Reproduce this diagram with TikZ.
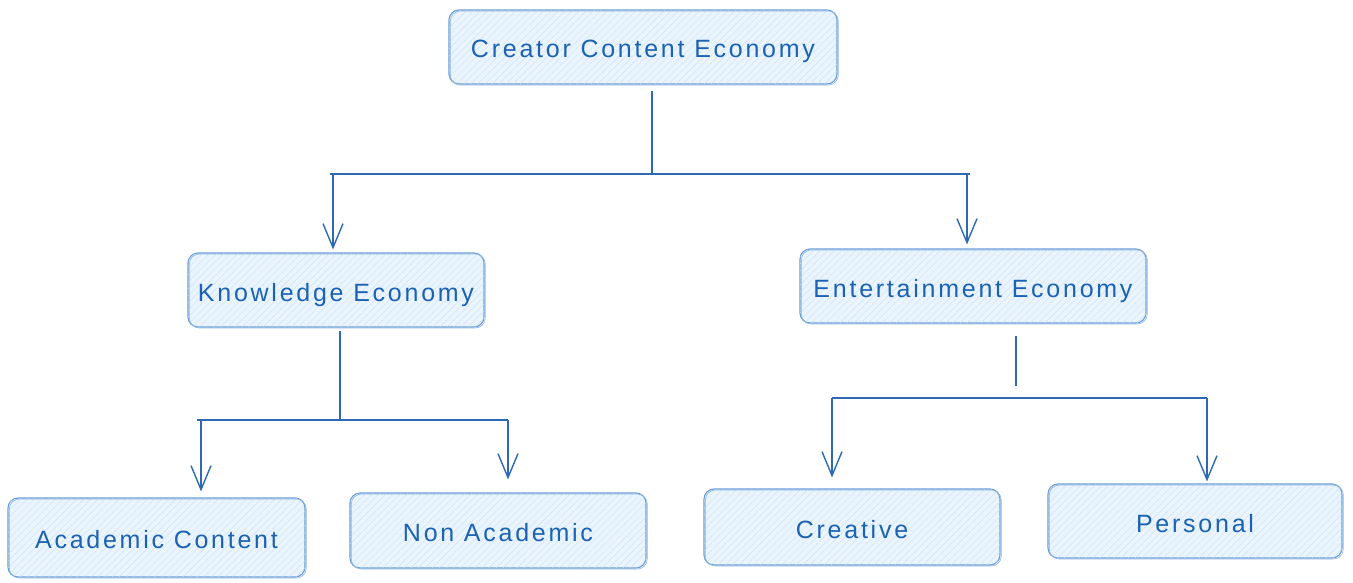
\documentclass[tikz,border=0pt]{standalone}
\usepackage{fontspec}
\setmainfont{Liberation Sans}[LetterSpace=11]
\usetikzlibrary{arrows.meta,patterns.meta}
\definecolor{boxfill}{RGB}{234,244,253}
\definecolor{hatch}{RGB}{200,224,247}
\definecolor{boxdraw}{RGB}{105,158,216}
\definecolor{linec}{RGB}{45,105,180}
\definecolor{textc}{RGB}{28,98,178}
\tikzset{
  box/.style={draw=boxdraw, line width=1.1pt, rounded corners=10pt, fill=boxfill,
    postaction={pattern={Lines[angle=45,distance=5pt,line width=0.35pt]}, pattern color=hatch},
    postaction={draw=boxdraw!75, line width=0.6pt, transform canvas={xshift=1.3pt,yshift=-1pt}},
    minimum height=74pt, text=textc, font=\fontsize{25}{28}\selectfont, inner sep=0pt,
    text height=24pt, text depth=2pt},
  conn/.style={draw=linec, line width=1.4pt},
  arr/.style={conn, -{Straight Barb[length=24pt,width=20pt,line width=1.4pt]}}
}
\begin{document}
\begin{tikzpicture}[x=1pt,y=-1pt]
\useasboundingbox[fill=white] (0,0) rectangle (1353,583);
% nodes
\node[box, minimum width=388pt] (cce) at (643,47) {Creator Content Economy};
\node[box, minimum width=296pt] (ke) at (336,290) {Knowledge Economy};
\node[box, minimum width=346pt] (ee) at (973,286) {Entertainment Economy};
\node[box, minimum width=297pt, minimum height=79pt] (ac) at (156.5,537.5) {Academic Content};
\node[box, minimum width=296pt, minimum height=75pt] (na) at (498,530.5) {Non Academic};
\node[box, minimum width=296pt, minimum height=76pt] (cr) at (852,527) {Creative};
\node[box, minimum width=294pt] (pe) at (1195,521) {Personal};
% junctions
\coordinate (t1) at (652,174);
\coordinate (tl) at (333,174);
\coordinate (tr) at (967,174);
\coordinate (k1) at (340,420);
\coordinate (kl) at (201,420);
\coordinate (kr) at (508,420);
\coordinate (e0) at (1016,386);
\coordinate (el) at (832,398);
\coordinate (er) at (1207,398);
% top level
\draw[conn] ([yshift=-6pt]cce.south -| t1) -- (t1);
\draw[conn] ([xshift=-3pt]tl) -- ([xshift=3pt]tr);
\draw[arr] (tl) -- ([yshift=3pt]tl |- ke.north);
\draw[arr] (tr) -- ([yshift=4pt]tr |- ee.north);
% knowledge
\draw[conn] ([yshift=-3pt]ke.south -| k1) -- (k1);
\draw[conn] ([xshift=-4pt]kl) -- (kr);
\draw[arr] (kl) -- ([yshift=6pt]kl |- ac.north);
\draw[arr] (kr) -- ([yshift=13pt]kr |- na.north);
% entertainment
\draw[conn] ([yshift=-12pt]ee.south -| e0) -- (e0);
\draw[conn] (el) -- (er);
\draw[arr] (el) -- ([yshift=11pt]el |- cr.north);
\draw[arr] (er) -- ([yshift=2pt]er |- pe.north);
\end{tikzpicture}
\end{document}
